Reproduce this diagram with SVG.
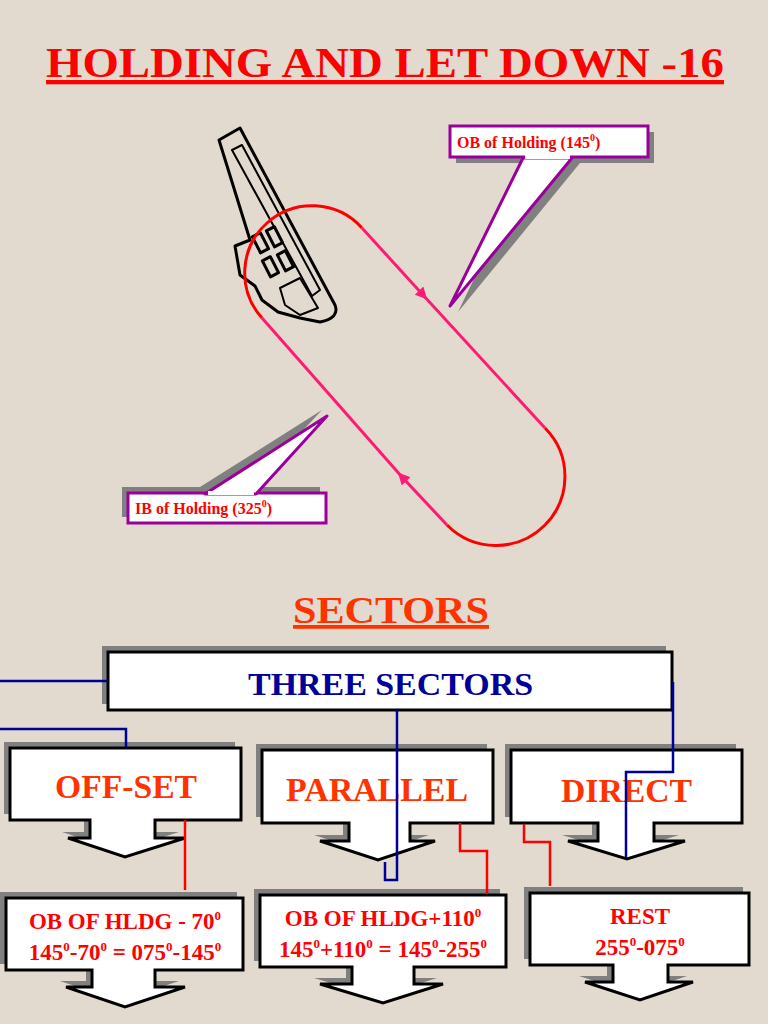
<svg xmlns="http://www.w3.org/2000/svg" width="768" height="1024" viewBox="0 0 768 1024">
<defs>
<style>
text{font-family:"Liberation Serif","Times New Roman",serif;font-weight:bold}
.sh{fill:#808080}
.box{fill:#fff;stroke:#000;stroke-width:3}
.lbl{fill:#ff3300;font-size:33px;text-anchor:middle}
.val{fill:#ff0000;font-size:23px;text-anchor:middle}
.cb{fill:#fff;stroke:#990099;stroke-width:3}
.ct{fill:#ff0000;font-size:16px}
.blue{fill:none;stroke:#000099;stroke-width:2.5}
.red{fill:none;stroke:#ff0000;stroke-width:2.5}
</style>
<marker id="ah" viewBox="0 0 10 10" refX="5" refY="5" markerWidth="4" markerHeight="4" orient="auto"><path d="M0,0L10,5L0,10z" fill="#ff1a75"/></marker>
</defs>
<rect width="768" height="1024" fill="#e2dace"/>
<text x="46" y="77" font-size="43" fill="#ff0000" textLength="678" lengthAdjust="spacingAndGlyphs" text-decoration="underline">HOLDING AND LET DOWN -16</text>

<g id="aircraft" fill="none" stroke="#000" stroke-width="3" stroke-linejoin="round">
<path d="M219,140 L240,128 L335,305 Q340,318 320,322 L300,318 L278,312 L262,300 L255,286 L240,275 L235,246 L250,240 Z"/>
<path d="M232,150 L242,145 L320,290 L312,296 Z" stroke-width="2"/>
<rect x="256" y="234" width="9" height="18" transform="rotate(-27 260 243)"/>
<rect x="270" y="228" width="9" height="18" transform="rotate(-27 274 237)"/>
<rect x="266" y="258" width="9" height="18" transform="rotate(-27 270 267)"/>
<rect x="281" y="252" width="9" height="18" transform="rotate(-27 285 261)"/>
<path d="M280,288 L300,278 L318,308 L300,315 L285,305 Z" stroke-width="2"/>
</g>

<g id="holding">
<path d="M545,428 A67,67 0 0 1 447,525" fill="none" stroke="#ff0000" stroke-width="3"/>
<path d="M262,318 A67,67 0 0 1 362,228" fill="none" stroke="#ff0000" stroke-width="3"/>
<path d="M362,228 L423,295" fill="none" stroke="#ff1a75" stroke-width="3" marker-end="url(#ah)"/>
<path d="M423,295 L545,428" fill="none" stroke="#ff1a75" stroke-width="3"/>
<path d="M447,525 L402,477" fill="none" stroke="#ff1a75" stroke-width="3" marker-end="url(#ah)"/>
<path d="M402,477 L262,318" fill="none" stroke="#ff1a75" stroke-width="3"/>
</g>

<g id="ob-callout">
<rect class="sh" x="456" y="132" width="198" height="31"/>
<polygon class="sh" points="530,163 580,163 458,312"/>
<rect class="cb" x="450" y="126" width="198" height="31"/>
<polygon points="523,158 572,158 450,306" fill="#fff" stroke="#990099" stroke-width="3" stroke-linejoin="round"/>
<line x1="525" y1="157" x2="570" y2="157" stroke="#fff" stroke-width="4"/>
<text class="ct" x="457" y="148">OB of Holding (145<tspan font-size="10" dy="-7">0</tspan><tspan dy="7">)</tspan></text>
</g>

<g id="ib-callout">
<rect class="sh" x="122" y="487" width="198" height="30"/>
<polygon class="sh" points="200,487 250,487 322,410"/>
<rect class="cb" x="128" y="493" width="198" height="30"/>
<polygon points="205,494 256,494 327,416" fill="#fff" stroke="#990099" stroke-width="3" stroke-linejoin="round"/>
<line x1="208" y1="493" x2="254" y2="493" stroke="#fff" stroke-width="4"/>
<text class="ct" x="135" y="514">IB of Holding (325<tspan font-size="10" dy="-7">0</tspan><tspan dy="7">)</tspan></text>
</g>

<text x="293" y="623" font-size="38" fill="#ff3300" textLength="196" lengthAdjust="spacingAndGlyphs" text-decoration="underline">SECTORS</text>

<g id="three-sectors">
<rect class="sh" x="102" y="646" width="564" height="58"/>
<rect class="box" x="108" y="652" width="564" height="58"/>
<text x="248" y="695" font-size="32" fill="#000099" textLength="285" lengthAdjust="spacingAndGlyphs">THREE SECTORS</text>
</g>

<g id="offset">
<path class="sh" d="M4,742 H235 V814 H149 V832 H179 L119,851 L62,832 H84 V814 H4 Z"/>
<path class="box" d="M10,748 H241 V820 H155 V838 H185 L125,857 L68,838 H90 V820 H10 Z"/>
<text class="lbl" x="55" y="798" textLength="142" lengthAdjust="spacingAndGlyphs" style="text-anchor:start">OFF-SET</text>
</g>
<g id="parallel">
<path class="sh" d="M256,744 H487 V817 H404 V835 H429 L372,854 L314,835 H343 V817 H256 Z"/>
<path class="box" d="M262,750 H493 V823 H410 V841 H435 L378,860 L320,841 H349 V823 H262 Z"/>
<text class="lbl" x="286" y="801" textLength="182" lengthAdjust="spacingAndGlyphs" style="text-anchor:start">PARALLEL</text>
</g>
<g id="direct">
<path class="sh" d="M505,744 H736 V817 H648 V835 H679 L621,853 L562,835 H592 V817 H505 Z"/>
<path class="box" d="M511,750 H742 V823 H654 V841 H685 L627,859 L568,841 H598 V823 H511 Z"/>
<text class="lbl" x="561" y="802" textLength="131" lengthAdjust="spacingAndGlyphs" style="text-anchor:start">DIRECT</text>
</g>
<g id="offset-value">
<path class="sh" d="M0,892 H237 V964 H149 V981 H179 L119,1001 L60,981 H86 V964 H0 Z"/>
<path class="box" d="M6,898 H243 V970 H155 V987 H185 L125,1007 L66,987 H92 V970 H6 Z"/>
<text class="val" x="125" y="929">OB OF HLDG - 70<tspan font-size="13" dy="-9">0</tspan></text>
<text class="val" x="125" y="960">145<tspan font-size="13" dy="-9">0</tspan><tspan dy="9">-70</tspan><tspan font-size="13" dy="-9">0</tspan><tspan dy="9"> = 075</tspan><tspan font-size="13" dy="-9">0</tspan><tspan dy="9">-145</tspan><tspan font-size="13" dy="-9">0</tspan></text>
</g>
<g id="parallel-value">
<path class="sh" d="M254,889 H500 V961 H408 V978 H437 L377,997 L314,978 H346 V961 H254 Z"/>
<path class="box" d="M260,895 H506 V967 H414 V984 H443 L383,1003 L320,984 H352 V967 H260 Z"/>
<text class="val" x="383" y="926">OB OF HLDG+110<tspan font-size="13" dy="-9">0</tspan></text>
<text class="val" x="383" y="957">145<tspan font-size="13" dy="-9">0</tspan><tspan dy="9">+110</tspan><tspan font-size="13" dy="-9">0</tspan><tspan dy="9"> = 145</tspan><tspan font-size="13" dy="-9">0</tspan><tspan dy="9">-255</tspan><tspan font-size="13" dy="-9">0</tspan></text>
</g>
<g id="direct-value">
<path class="sh" d="M524,887 H743 V959 H662 V976 H687 L634,994 L579,976 H607 V959 H524 Z"/>
<path class="box" d="M530,893 H749 V965 H668 V982 H693 L640,1000 L585,982 H613 V965 H530 Z"/>
<text class="val" x="640" y="924">REST</text>
<text class="val" x="640" y="955">255<tspan font-size="13" dy="-9">0</tspan><tspan dy="9">-075</tspan><tspan font-size="13" dy="-9">0</tspan></text>
</g>

<g id="connectors">
<polyline class="blue" points="0,681 108,681"/>
<polyline class="blue" points="0,729 126,729 126,747"/>
<polyline class="blue" points="397,710 397,880 385,880 385,862"/>
<polyline class="blue" points="673,682 673,772 626,772 626,858"/>
<polyline class="red" points="185,820 185,890"/>
<polyline class="red" points="460,823 460,851 487,851 487,894"/>
<polyline class="red" points="524,824 524,842 550,842 550,886"/>
</g>
</svg>
